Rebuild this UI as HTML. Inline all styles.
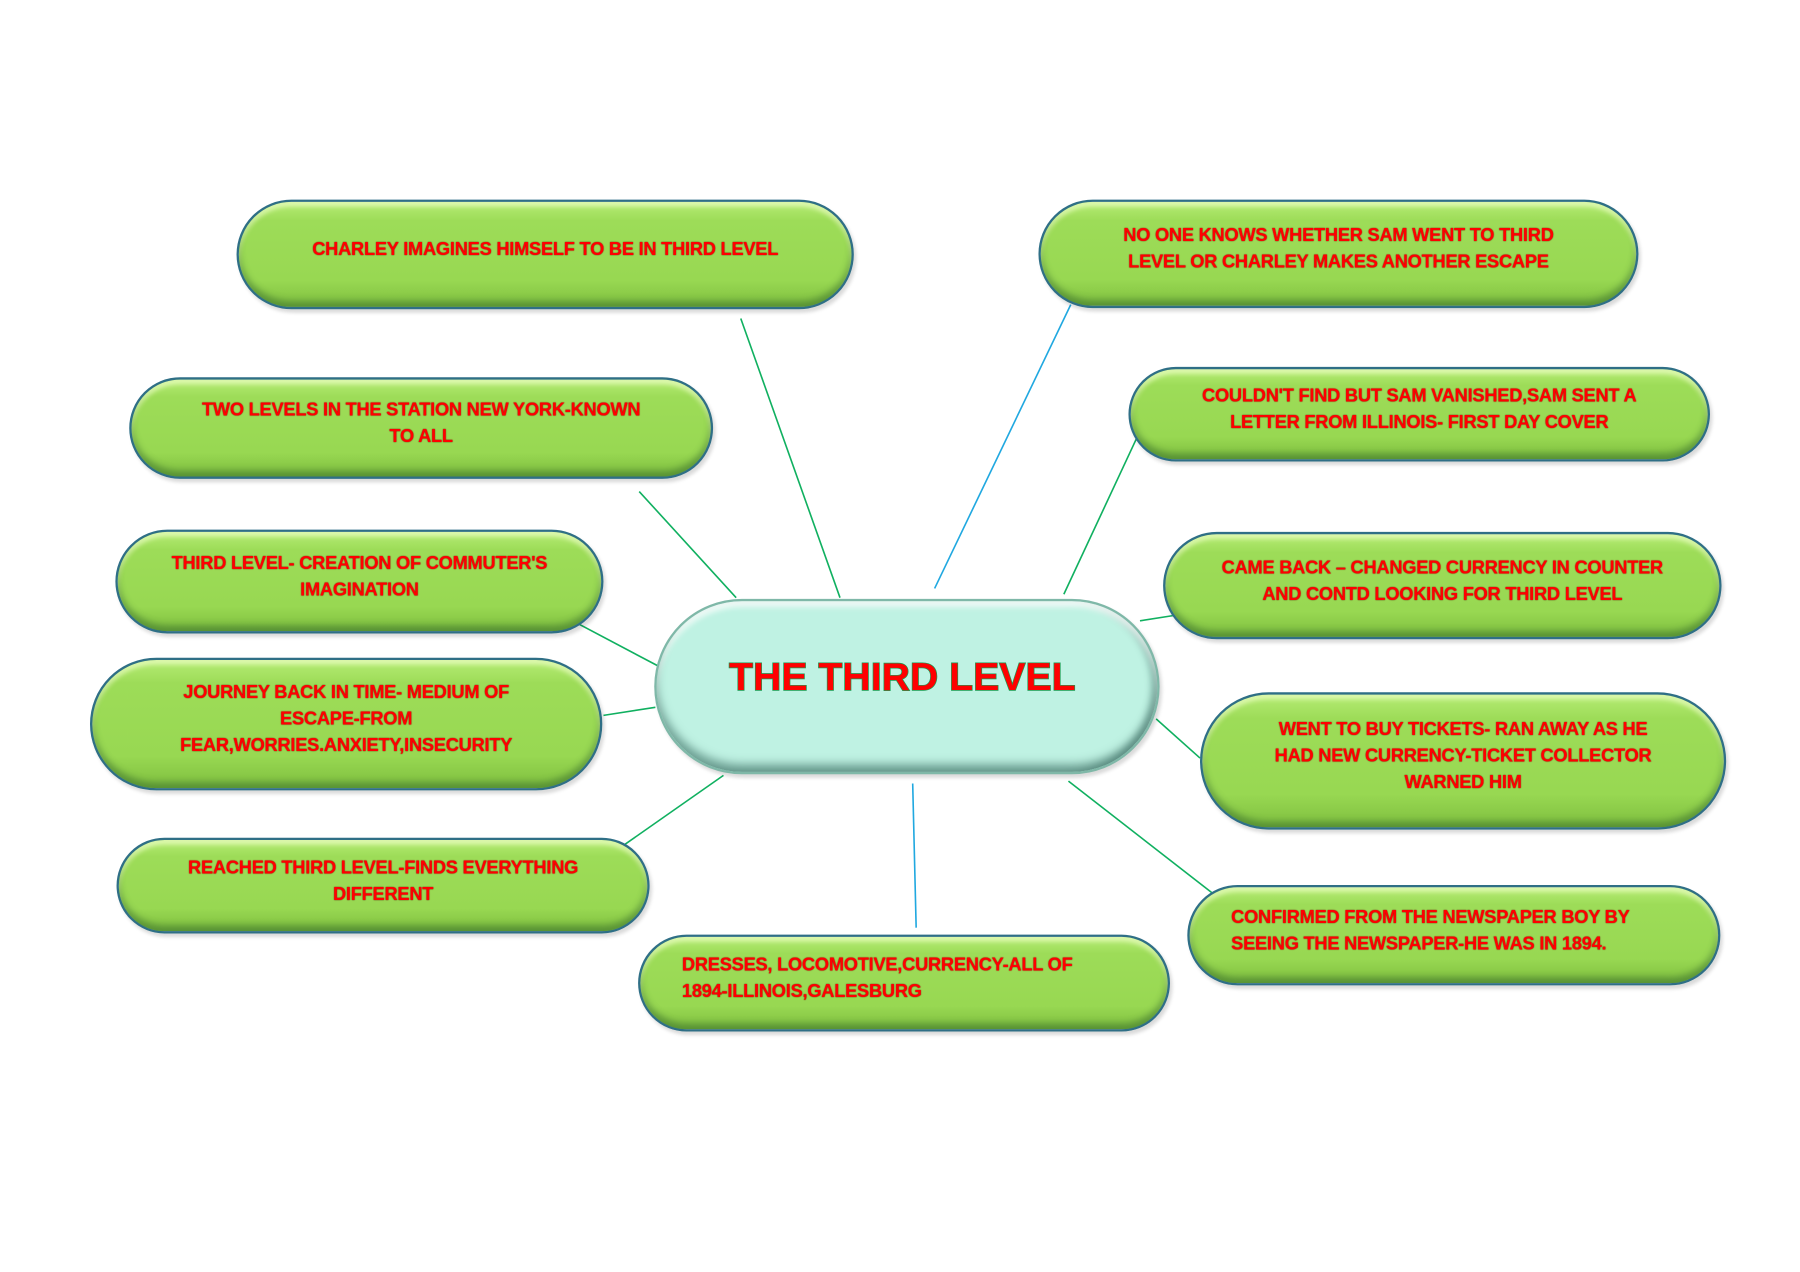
<!DOCTYPE html>
<html><head><meta charset="utf-8"><style>
html,body{margin:0;padding:0;background:#fff;width:1800px;height:1272px;overflow:hidden}
#w{position:absolute;left:0;top:0;width:1560px;height:1102px;transform:scale(1.153846);transform-origin:0 0}
svg{position:absolute;left:0;top:0}
.n{position:absolute;box-sizing:border-box;border-radius:999px;background:linear-gradient(#b5ec74 0%,#9ddc58 18%,#98d852 75%,#7fbf3f 100%);border:2px solid #2f6f86;box-shadow:inset 0 -5px 6px rgba(40,90,40,.45),inset 0 4px 4px rgba(240,255,200,.7),2px 3px 3px rgba(0,0,0,.15);display:flex;align-items:center;justify-content:center;text-align:center;font-family:"Liberation Sans Narrow","Liberation Sans",sans-serif;font-weight:bold;font-size:15.8px;letter-spacing:-0.2px;line-height:23px;color:#f00;text-shadow:0 0 1px #600;padding:0 20px 8px}
.l{justify-content:flex-start;text-align:left;padding-left:36px}
#c{position:absolute;left:567px;top:519px;width:438px;height:152px;box-sizing:border-box;border-radius:76px;background:#bff2e3;border:2px solid #7fb8a8;box-shadow:inset 0 -7px 8px rgba(40,90,80,.5),inset 0 5px 5px rgba(255,255,255,.8),inset -5px 0 6px rgba(40,90,80,.35),2px 3px 3px rgba(0,0,0,.15);font-family:"Liberation Sans",sans-serif;font-weight:bold;font-size:34px;color:#f00;text-align:center;padding-top:47px;padding-right:8px;-webkit-text-stroke:1.2px #1a9a50;paint-order:stroke fill}
</style></head><body><div id="w">
<svg width="1560" height="1102">
<g stroke="#10b060" stroke-width="1.4">
<line x1="642" y1="276" x2="728" y2="518"/>
<line x1="554" y1="426" x2="638" y2="518"/>
<line x1="985" y1="380" x2="922" y2="515"/>
<line x1="500" y1="540" x2="570" y2="577"/>
<line x1="988" y1="538" x2="1020" y2="533"/>
<line x1="523" y1="620" x2="568" y2="613"/>
<line x1="1002" y1="623" x2="1040" y2="657"/>
<line x1="537" y1="735" x2="627" y2="672"/>
<line x1="926" y1="677" x2="1052" y2="775"/>
</g>
<g stroke="#20a8e0" stroke-width="1.4">
<line x1="928" y1="264" x2="810" y2="510"/>
<line x1="791" y1="679" x2="794" y2="804"/>
</g>
</svg>
<div class="n" style="left:205px;top:173px;width:535px;height:95px">CHARLEY IMAGINES HIMSELF TO BE IN THIRD LEVEL</div>
<div class="n" style="left:900px;top:173px;width:520px;height:94px">NO ONE KNOWS WHETHER SAM WENT TO THIRD<br>LEVEL OR CHARLEY MAKES ANOTHER ESCAPE</div>
<div class="n" style="left:112px;top:327px;width:506px;height:88px">TWO LEVELS IN THE STATION NEW YORK-KNOWN<br>TO ALL</div>
<div class="n" style="left:978px;top:318px;width:504px;height:82px">COULDN'T FIND BUT SAM VANISHED,SAM SENT A<br>LETTER FROM ILLINOIS- FIRST DAY COVER</div>
<div class="n" style="left:100px;top:459px;width:423px;height:90px">THIRD LEVEL- CREATION OF COMMUTER'S<br>IMAGINATION</div>
<div class="n" style="left:1008px;top:461px;width:484px;height:93px">CAME BACK – CHANGED CURRENCY IN COUNTER<br>AND CONTD LOOKING FOR THIRD LEVEL</div>
<div class="n" style="left:78px;top:570px;width:444px;height:115px">JOURNEY BACK IN TIME- MEDIUM OF<br>ESCAPE-FROM<br>FEAR,WORRIES.ANXIETY,INSECURITY</div>
<div class="n" style="left:1040px;top:600px;width:456px;height:119px">WENT TO BUY TICKETS- RAN AWAY AS HE<br>HAD NEW CURRENCY-TICKET COLLECTOR<br>WARNED HIM</div>
<div class="n" style="left:101px;top:726px;width:462px;height:83px">REACHED THIRD LEVEL-FINDS EVERYTHING<br>DIFFERENT</div>
<div class="n l" style="left:1029px;top:767px;width:462px;height:87px">CONFIRMED FROM THE NEWSPAPER BOY BY<br>SEEING THE NEWSPAPER-HE WAS IN 1894.</div>
<div class="n l" style="left:553px;top:810px;width:461px;height:84px">DRESSES, LOCOMOTIVE,CURRENCY-ALL OF<br>1894-ILLINOIS,GALESBURG</div>
<div id="c">THE THIRD LEVEL</div>
</div></body></html>
